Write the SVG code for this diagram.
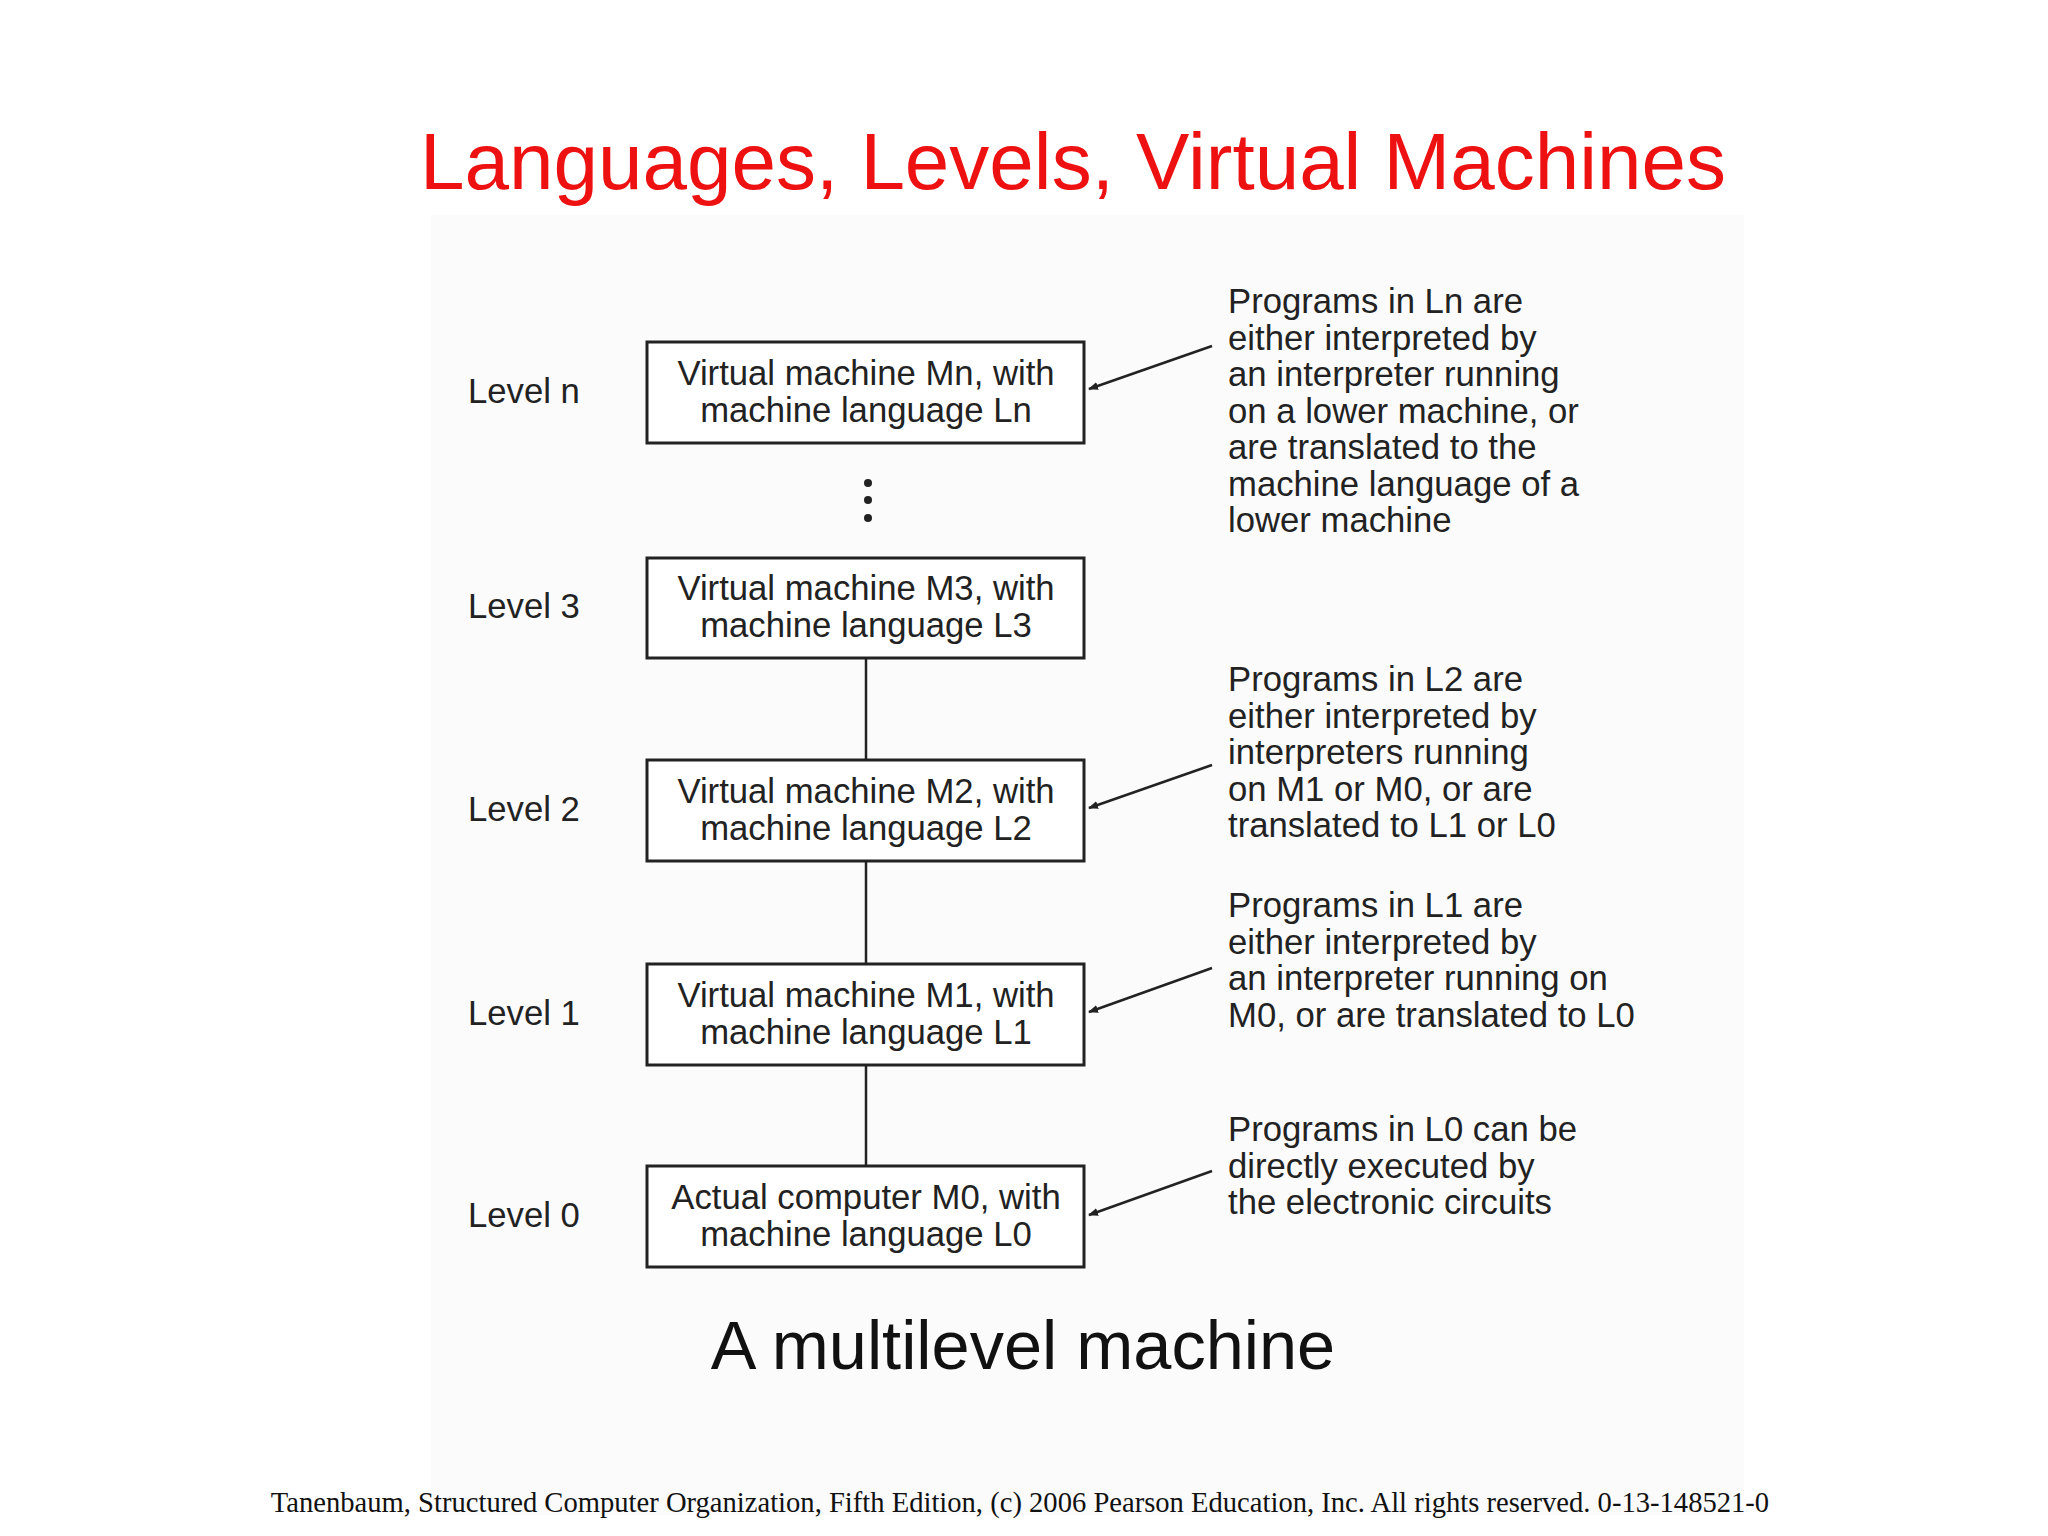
<svg xmlns="http://www.w3.org/2000/svg" width="2048" height="1536" viewBox="0 0 2048 1536">
<defs>
<style>
.t{font-family:"Liberation Sans",Arial,sans-serif;font-size:34.7px;fill:#222}
.box{fill:#fff;stroke:#222;stroke-width:3}
.c{stroke:#222;stroke-width:2.5;fill:none}
</style>
<marker id="ah" viewBox="0 0 10 10" refX="9" refY="5" markerWidth="10" markerHeight="10" markerUnits="userSpaceOnUse" orient="auto"><path d="M0,1 L10,5 L0,9 Z" fill="#222"/></marker>
</defs>
<rect width="2048" height="1536" fill="#fff"/>
<rect x="431" y="215" width="1313" height="1300" fill="#fbfbfc"/>
<text x="1073" y="189" text-anchor="middle" font-family="Liberation Sans,Arial,sans-serif" font-size="80" fill="#ee1111">Languages, Levels, Virtual Machines</text>
<g id="n"><rect class="box" x="647" y="342" width="437" height="101"/><text class="t" x="866" y="385" text-anchor="middle">Virtual machine Mn, with</text><text class="t" x="866" y="422" text-anchor="middle">machine language Ln</text><text class="t" x="468" y="403">Level n</text></g>
<g id="dots" fill="#222"><circle cx="868" cy="483" r="4"/><circle cx="868" cy="500" r="4"/><circle cx="868" cy="518" r="4"/></g>
<g id="m3"><rect class="box" x="647" y="558" width="437" height="100"/><text class="t" x="866" y="600" text-anchor="middle">Virtual machine M3, with</text><text class="t" x="866" y="637" text-anchor="middle">machine language L3</text><text class="t" x="468" y="618">Level 3</text></g>
<g id="m2"><rect class="box" x="647" y="760" width="437" height="101"/><text class="t" x="866" y="803" text-anchor="middle">Virtual machine M2, with</text><text class="t" x="866" y="840" text-anchor="middle">machine language L2</text><text class="t" x="468" y="821">Level 2</text></g>
<g id="m1"><rect class="box" x="647" y="964" width="437" height="101"/><text class="t" x="866" y="1007" text-anchor="middle">Virtual machine M1, with</text><text class="t" x="866" y="1044" text-anchor="middle">machine language L1</text><text class="t" x="468" y="1025">Level 1</text></g>
<g id="m0"><rect class="box" x="647" y="1166" width="437" height="101"/><text class="t" x="866" y="1209" text-anchor="middle">Actual computer M0, with</text><text class="t" x="866" y="1246" text-anchor="middle">machine language L0</text><text class="t" x="468" y="1227">Level 0</text></g>
<g id="notes" class="t">
<text x="1228" y="313">Programs in Ln are</text><text x="1228" y="350">either interpreted by</text><text x="1228" y="386">an interpreter running</text><text x="1228" y="423">on a lower machine, or</text><text x="1228" y="459">are translated to the</text><text x="1228" y="496">machine language of a</text><text x="1228" y="532">lower machine</text>
<text x="1228" y="691">Programs in L2 are</text><text x="1228" y="728">either interpreted by</text><text x="1228" y="764">interpreters running</text><text x="1228" y="801">on M1 or M0, or are</text><text x="1228" y="837">translated to L1 or L0</text>
<text x="1228" y="917">Programs in L1 are</text><text x="1228" y="954">either interpreted by</text><text x="1228" y="990">an interpreter running on</text><text x="1228" y="1027">M0, or are translated to L0</text>
<text x="1228" y="1141">Programs in L0 can be</text><text x="1228" y="1178">directly executed by</text><text x="1228" y="1214">the electronic circuits</text>
</g>
<g id="connectors">
<line class="c" x1="866" y1="658" x2="866" y2="760"/>
<line class="c" x1="866" y1="861" x2="866" y2="964"/>
<line class="c" x1="866" y1="1065" x2="866" y2="1166"/>
<line class="c" x1="1212" y1="346" x2="1089" y2="389" marker-end="url(#ah)"/>
<line class="c" x1="1212" y1="765" x2="1089" y2="808" marker-end="url(#ah)"/>
<line class="c" x1="1212" y1="968" x2="1089" y2="1012" marker-end="url(#ah)"/>
<line class="c" x1="1212" y1="1171" x2="1089" y2="1215" marker-end="url(#ah)"/>
</g>
<text x="1023" y="1369" text-anchor="middle" font-family="Liberation Sans,Arial,sans-serif" font-size="68.5" fill="#111">A multilevel machine</text>
<text x="1020" y="1512" text-anchor="middle" font-family="Liberation Serif,Times New Roman,serif" font-size="28.6" fill="#111">Tanenbaum, Structured Computer Organization, Fifth Edition, (c) 2006 Pearson Education, Inc. All rights reserved. 0-13-148521-0</text>
</svg>
